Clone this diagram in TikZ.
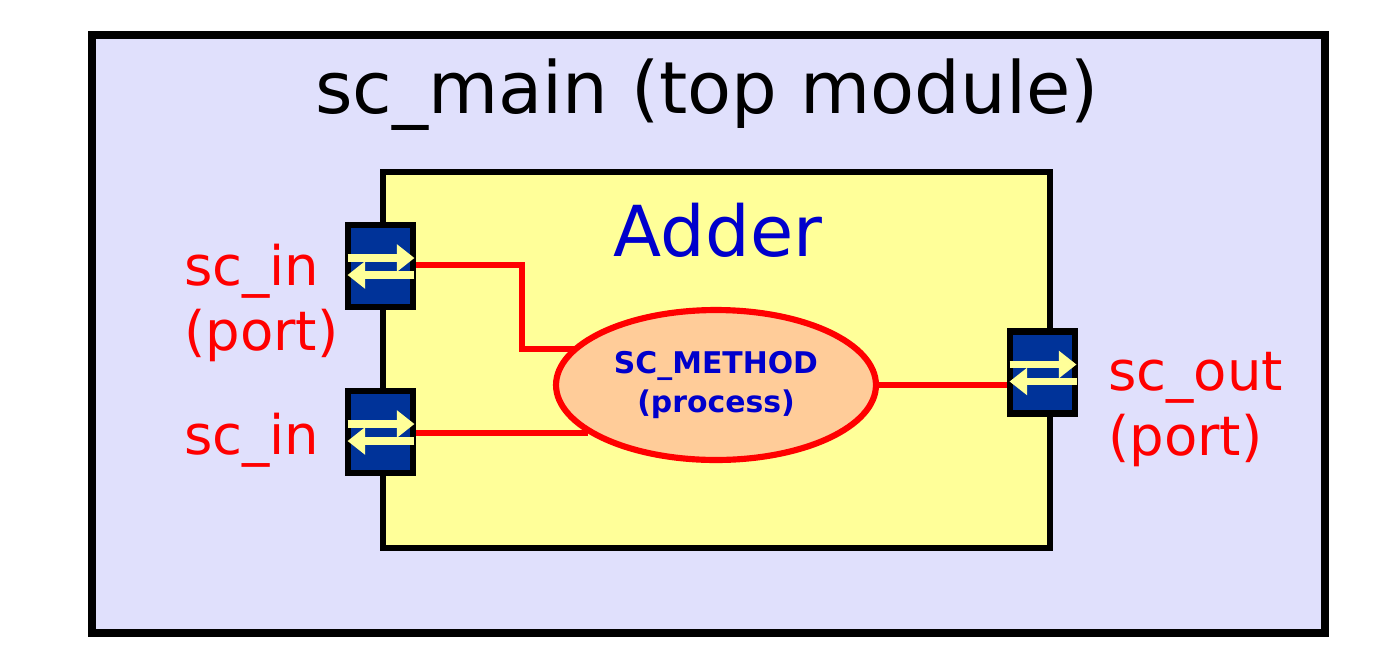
\documentclass[tikz,border=0pt]{standalone}
\usepackage{fontspec}
\setmainfont{DejaVu Sans}
\usetikzlibrary{shapes.geometric,arrows.meta}
\definecolor{outerbg}{HTML}{E0E0FC}
\definecolor{adderbg}{HTML}{FFFF99}
\definecolor{portbl}{HTML}{003399}
\definecolor{arrowy}{HTML}{FFFF99}
\definecolor{ellbg}{HTML}{FFCC99}
\definecolor{txtblue}{HTML}{0000CC}
\begin{document}
\begin{tikzpicture}[x=0.02cm,y=-0.02cm,
  port/.style={draw=black,line width=3.8pt,fill=portbl,minimum width=1.3cm,minimum height=1.64cm,inner sep=0},
  wire/.style={red,line width=3.5pt},
  lbl/.style={red,font=\fontsize{31}{37}\selectfont,align=left,anchor=west},
  parr/.style={arrowy,line width=4pt,-{Triangle[length=10pt,width=15pt]}}]
\useasboundingbox (0,0) rectangle (1374,664);
\node[draw=black,line width=4.5pt,fill=outerbg,minimum width=24.66cm,minimum height=11.96cm,inner sep=0] (outer) at (708.5,334) {};
\node[font=\fontsize{41}{48}\selectfont] (title) at (707,95) {sc\_main (top module)};
\node[draw=black,line width=3.8pt,fill=adderbg,minimum width=13.34cm,minimum height=7.52cm,inner sep=0] (adder) at (716.5,360) {};
\node[text=txtblue,font=\fontsize{40}{46}\selectfont] (addt) at (718,230) {Adder};
\node[port] (p1) at (380.5,266) {};
\node[port] (p2) at (380.5,432) {};
\node[port] (p3) at (1042.5,372.5) {};
\foreach \p in {p1,p2,p3}{
  \draw[parr] ([xshift=-0.66cm,yshift=0.16cm]\p.center) -- ([xshift=0.68cm,yshift=0.16cm]\p.center);
  \draw[parr] ([xshift=0.68cm,yshift=-0.18cm]\p.center) -- ([xshift=-0.66cm,yshift=-0.18cm]\p.center);
}
\node[ellipse,draw=red,line width=3.5pt,fill=ellbg,minimum width=6.4cm,minimum height=3.0cm,inner sep=0,
  text=txtblue,font=\bfseries\fontsize{17}{22}\selectfont,align=center] (m) at (716,385) {SC\_METHOD\\(process)};
\coordinate (c1) at (522,265);
\coordinate (c2) at (522,349);
\coordinate (e1) at (576,349);
\coordinate (e2) at (588,433);
\draw[wire] (p1.east |- c1) -- (c1) -- (c2) -- (e1);
\draw[wire] (p2.east |- e2) -- (e2);
\draw[wire] (m.east) -- (p3.west |- m.east);
\node[lbl] (l1) at (178,303) {sc\_in\\(port)};
\node[lbl] (l2) at (178,440) {sc\_in};
\node[lbl] (l3) at (1102,410) {sc\_out\\(port)};
\end{tikzpicture}
\end{document}
